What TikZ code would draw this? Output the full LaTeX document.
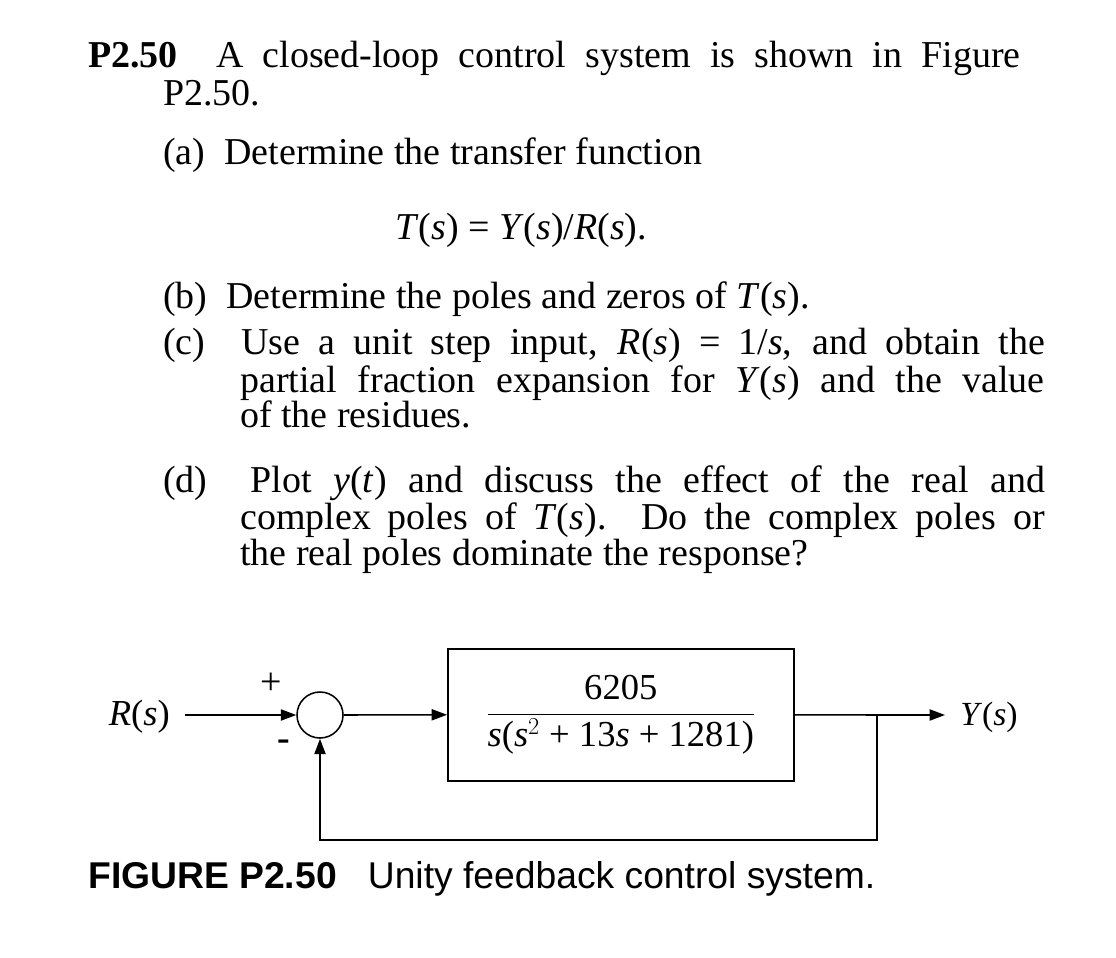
\documentclass[tikz,border=0pt]{standalone}
\usepackage{fontspec}
\setmainfont{Liberation Serif}
\setsansfont{Liberation Sans}
\usetikzlibrary{arrows.meta}
\newcommand{\iv}[1]{\textit{#1}}
\begin{document}
\begin{tikzpicture}[x=0.025cm,y=-0.025cm,
  ln/.style={anchor=base west,inner sep=0,font=\fontsize{27}{31}\selectfont},
  wire/.style={line width=1.1pt},
  arr/.style={wire,-{Triangle[length=11pt,width=8pt]}}]
\useasboundingbox (0,0) rectangle (1116,958);
\node[ln] (l1) at (88,68) {\makebox[663pt][s]{\textbf{P2.50}\ \ A closed-loop control system is shown in Figure}};
\node[ln] (l2) at (163,106) {P2.50.};
\node[ln] (l3) at (163,165) {(a)\ \ Determine the transfer function};
\node[ln] (l4) at (395,240) {\iv{T}(\iv{s}) = \iv{Y}(\iv{s})/\iv{R}(\iv{s}).};
\node[ln] (l5) at (163,308) {(b)\ \ Determine the poles and zeros of \iv{T}(\iv{s}).};
\node[ln] (l6) at (163,354) {\makebox[627pt][s]{(c)\ \ Use a unit step input, \iv{R}(\iv{s}) = 1/\iv{s}, and obtain the}};
\node[ln] (l7) at (240,392) {\makebox[572pt][s]{partial fraction expansion for \iv{Y}(\iv{s}) and the value}};
\node[ln] (l8) at (240,427) {of the residues.};
\node[ln] (l9) at (163,492) {\makebox[627pt][s]{(d)\ \ Plot \iv{y}(\iv{t}) and discuss the effect of the real and}};
\node[ln] (l10) at (240,529) {\makebox[572pt][s]{complex poles of \iv{T}(\iv{s}). Do the complex poles or}};
\node[ln] (l11) at (240,565) {the real poles dominate the response?};
% diagram
\node[ln,anchor=base east,font=\fontsize{26}{30}\selectfont] (R) at (170,725) {\iv{R}(\iv{s})};
\node[draw,circle,minimum size=46*0.025cm,inner sep=0,wire] (sum) at (320,715) {};
\node[ln] (plus) at (260,694) {+};
\node[ln] (minus) at (277,750) {\textbf{-}};
\node[draw,wire,minimum width=346*0.025cm,minimum height=132*0.025cm,anchor=north west,inner sep=0] (G) at (447,648) {};
\node[font=\fontsize{26}{30}\selectfont] (Gt) at (G.center) {$\displaystyle\frac{\hbox{6205}}{\hbox{\iv{s}(\iv{s}$^2$ + 13\iv{s} + 1281)}}$};
\coordinate (br) at (877,715);
\node[ln,anchor=base west,font=\fontsize{24}{28}\selectfont] (Y) at (960,725) {\iv{Y}(\iv{s})};
\coordinate (c1) at (877,840);
\coordinate (c2) at (320,840);
\draw[arr] (185,715) -- (sum.west);
\draw[arr] (sum.east) -- (G.west);
\draw[wire] (G.east) -- (br);
\draw[arr] (br) -- (945,715);
\draw[arr] (br) -- (c1) -- (c2) -- (sum.south);
\node[anchor=base west,inner sep=0,font=\sffamily\fontsize{26.5}{30}\selectfont] (cap) at (88,888) {\textbf{FIGURE P2.50}\ \ \ Unity feedback control system.};
\end{tikzpicture}
\end{document}
